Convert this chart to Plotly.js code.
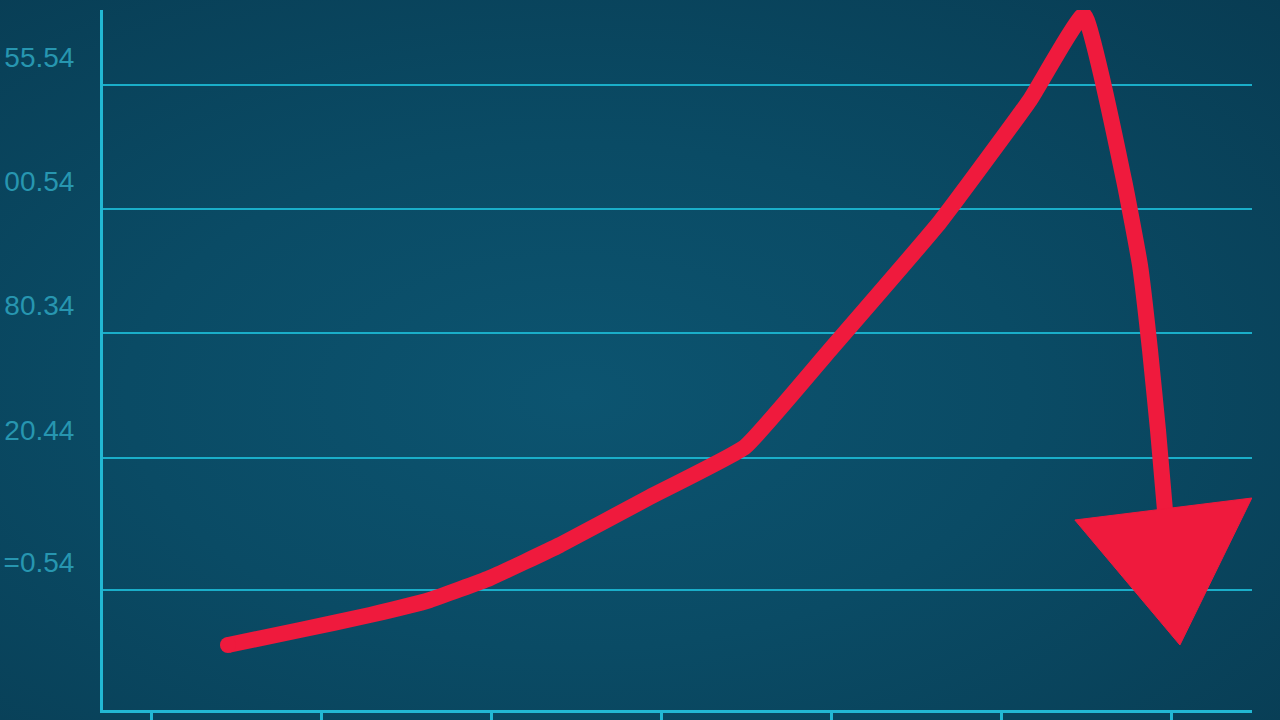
<!DOCTYPE html>
<html>
<head>
<meta charset="utf-8">
<script src="https://cdn.plot.ly/plotly-3.0.1.min.js"></script>
<style>
  html, body { margin: 0; padding: 0; width: 1280px; height: 720px; overflow: hidden;
    background: radial-gradient(ellipse at 45% 55%, #0c5470 0%, #0a4b65 45%, #083c53 100%); }
  #chart { width: 1280px; height: 720px; }
</style>
</head>
<body>
<div id="chart"></div>
<script>
// Curve (rise then drop)
const lineX = [0.447, 0.871, 1.282, 1.635, 1.988, 2.400, 2.929, 3.488, 3.988, 4.635, 5.165, 5.482, 5.718, 5.812, 5.871, 5.918, 5.959];
const lineY = [0.65, 0.80, 0.95, 1.10, 1.32, 1.65, 2.13, 2.63, 3.60, 4.88, 6.10, 6.95, 5.30, 4.45, 3.60, 2.80, 2.00];
// Arrow head triangle
const headX = [5.429, 6.47, 6.047, 5.429];
const headY = [1.90, 2.12, 0.65, 1.90];
// Gridline values and their (garbled) labels
const gridVals = [1.20, 2.52, 3.77, 5.01, 6.25];
const gridLabels = ['=0.54', '20.44', '80.34', '00.54', '55.54'];
// X ticks (no labels)
const xTicks = [0, 1, 2, 3, 4, 5, 6];

const red = '#ef1a3d';
const cyan = '#22b8d4';

const traces = [
  { x: lineX, y: lineY, type: 'scatter', mode: 'lines',
    line: { color: red, width: 16, shape: 'spline', smoothing: 0.35 }, hoverinfo: 'skip' },
  { x: [lineX[0]], y: [lineY[0]], type: 'scatter', mode: 'markers',
    marker: { color: red, size: 16 }, hoverinfo: 'skip' },
  { x: headX, y: headY, type: 'scatter', mode: 'lines', fill: 'toself',
    fillcolor: red, line: { color: red, width: 1 }, hoverinfo: 'skip' }
];

const layout = {
  width: 1280, height: 720,
  paper_bgcolor: 'rgba(0,0,0,0)', plot_bgcolor: 'rgba(0,0,0,0)',
  margin: { l: 103, r: 28, t: 10, b: 10 },
  showlegend: false,
  font: { family: 'Liberation Sans, Arial, sans-serif' },
  xaxis: {
    range: [-0.288, 6.471], tickvals: xTicks, showticklabels: false,
    ticks: 'outside', ticklen: 10, tickwidth: 3, tickcolor: cyan,
    showline: true, linecolor: cyan, linewidth: 3,
    showgrid: false, zeroline: false, fixedrange: true
  },
  yaxis: {
    range: [0, 7], tickvals: gridVals, ticktext: gridLabels,
    ticks: '', ticklabelstandoff: 20, ticklabelshift: -28,
    tickfont: { size: 28, color: '#2796b0', family: 'Liberation Sans, Arial, sans-serif' },
    showline: true, linecolor: cyan, linewidth: 3,
    showgrid: true, gridcolor: '#1aaec9', gridwidth: 2,
    zeroline: false, fixedrange: true
  }
};

Plotly.newPlot('chart', traces, layout, { staticPlot: true, displayModeBar: false });
</script>
</body>
</html>
